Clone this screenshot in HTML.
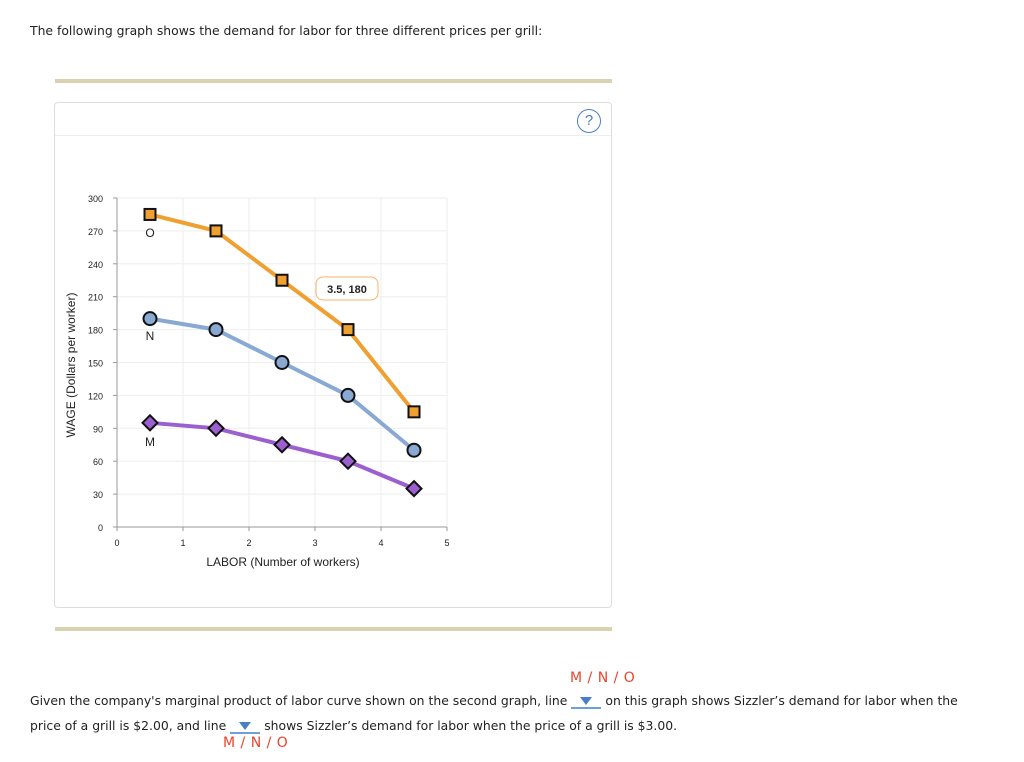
<!DOCTYPE html>
<html><head><meta charset="utf-8"><style>
body{margin:0;width:1024px;height:762px;background:#fff;font-family:"DejaVu Sans","Liberation Sans",sans-serif;position:relative;overflow:hidden}
.abs{position:absolute}
.p{font-size:12.4px;color:#222;white-space:nowrap}
.red{color:#e8452c;font-size:14px;letter-spacing:0.5px}
.dd{display:inline-block;width:30px;height:12px;border-bottom:2px solid #6f9fd8;position:relative;vertical-align:middle;margin:0 4px}
.dd:after{content:"";position:absolute;left:9px;top:2px;border-left:6px solid transparent;border-right:6px solid transparent;border-top:8px solid #4a7fc4}
</style></head><body>
<div class="abs p" style="left:30px;top:23px">The following graph shows the demand for labor for three different prices per grill:</div>
<div class="abs" style="left:55px;top:79px;width:557px;height:4px;background:#d8d2b0"></div>
<div class="abs" style="left:55px;top:627px;width:557px;height:4px;background:#d8d2b0"></div>
<div class="abs" style="left:54px;top:102px;width:556px;height:504px;border:1px solid #ddd;border-radius:4px"></div>
<div class="abs" style="left:55px;top:135px;width:556px;height:1px;background:#eee"></div>
<div class="abs" style="left:577px;top:109px;width:22px;height:22px;border:1px solid #4a7fc4;border-radius:50%;color:#4a7fc4;font-size:15px;text-align:center;line-height:22px;font-family:'Liberation Sans',sans-serif">?</div>
<svg class="abs" style="left:0;top:0" width="1024" height="762" id="chart"></svg>
<div class="abs red" style="left:570px;top:670px">M / N / O</div>
<div class="abs p" style="left:30px;top:693px">Given the company's marginal product of labor curve shown on the second graph, line<span class="dd"></span>on this graph shows Sizzler’s demand for labor when the</div>
<div class="abs p" style="left:30px;top:718px">price of a grill is $2.00, and line<span class="dd"></span>shows Sizzler’s demand for labor when the price of a grill is $3.00.</div>
<div class="abs red" style="left:223px;top:735px">M / N / O</div>
<script>
const xs=[0.5,1.5,2.5,3.5,4.5];
const seriesO=[285,270,225,180,105];
const seriesN=[190,180,150,120,70];
const seriesM=[95,90,75,60,35];
const yTicks=[0,30,60,90,120,150,180,210,240,270,300];
const xTicks=[0,1,2,3,4,5];
const svg=document.getElementById('chart');const NS='http://www.w3.org/2000/svg';
const X=v=>117+v*66, Y=v=>527-v*(329/300);
function mk(t,a,p){const e=document.createElementNS(NS,t);for(const k in a)e.setAttribute(k,a[k]);(p||svg).appendChild(e);return e;}
yTicks.forEach(v=>{const g=mk('line',{x1:117,x2:447,y1:Y(v),y2:Y(v),stroke:'#eee'});

mk('line',{x1:113,x2:117,y1:Y(v),y2:Y(v),stroke:'#999'});
const t=mk('text',{x:103,y:Y(v)+4,'text-anchor':'end','font-size':9,'font-family':'Liberation Sans, sans-serif',fill:'#222'});t.textContent=v;
});
xTicks.forEach(v=>{if(v>0){const g=mk('line',{x1:X(v),x2:X(v),y1:Y(300),y2:527,stroke:'#eee'});}
mk('line',{x1:X(v),x2:X(v),y1:527,y2:531,stroke:'#999'});
const t=mk('text',{x:X(v),y:546,'text-anchor':'middle','font-size':9,'font-family':'Liberation Sans, sans-serif',fill:'#222'});t.textContent=v;
});
const ya=mk('line',{x1:117,x2:117,y1:Y(300),y2:527,stroke:'#999'});
const xa=mk('line',{x1:117,x2:447,y1:527,y2:527,stroke:'#999'});
let t=mk('text',{x:283,y:566,'text-anchor':'middle','font-size':12,'font-family':'Liberation Sans, sans-serif',fill:'#222'});t.textContent='LABOR (Number of workers)';

t=mk('text',{x:0,y:0,'text-anchor':'middle','font-size':12,'font-family':'Liberation Sans, sans-serif',fill:'#222',transform:'translate(75,365) rotate(-90)'});t.textContent='WAGE (Dollars per worker)';

function series(vals,color,shape,name,label,ly){
 const pl=mk('polyline',{points:xs.map((x,i)=>X(x)+','+Y(vals[i])).join(' '),fill:'none',stroke:color,'stroke-width':4});
 
 xs.forEach((x,i)=>{const cx=X(x),cy=Y(vals[i]);let m;
  if(shape==='sq')m=mk('rect',{x:cx-5.5,y:cy-5.5,width:11,height:11,fill:color,stroke:'#111','stroke-width':2});
  else if(shape==='c')m=mk('circle',{cx:cx,cy:cy,r:6.5,fill:color,stroke:'#111','stroke-width':2});
  else m=mk('polygon',{points:`${cx},${cy-7.5} ${cx+7.5},${cy} ${cx},${cy+7.5} ${cx-7.5},${cy}`,fill:color,stroke:'#111','stroke-width':2});
  });
 const l=mk('text',{x:X(xs[0]),y:ly,'text-anchor':'middle','font-size':12,'font-family':'Liberation Sans, sans-serif',fill:'#222'});l.textContent=label;
 
}
series(seriesM,'#9c5fd0','d','m','M',446);
series(seriesN,'#89a9d3','c','n','N',340);
series(seriesO,'#f0a030','sq','o','O',237);
const tip=mk('rect',{x:316,y:277,width:62,height:23,rx:7,fill:'#fff',stroke:'#f5b56a'});
t=mk('text',{x:347,y:293,'text-anchor':'middle','font-size':11,'font-weight':'bold','font-family':'Liberation Sans, sans-serif',fill:'#222'});t.textContent='3.5, 180';

</script>
</body></html>
